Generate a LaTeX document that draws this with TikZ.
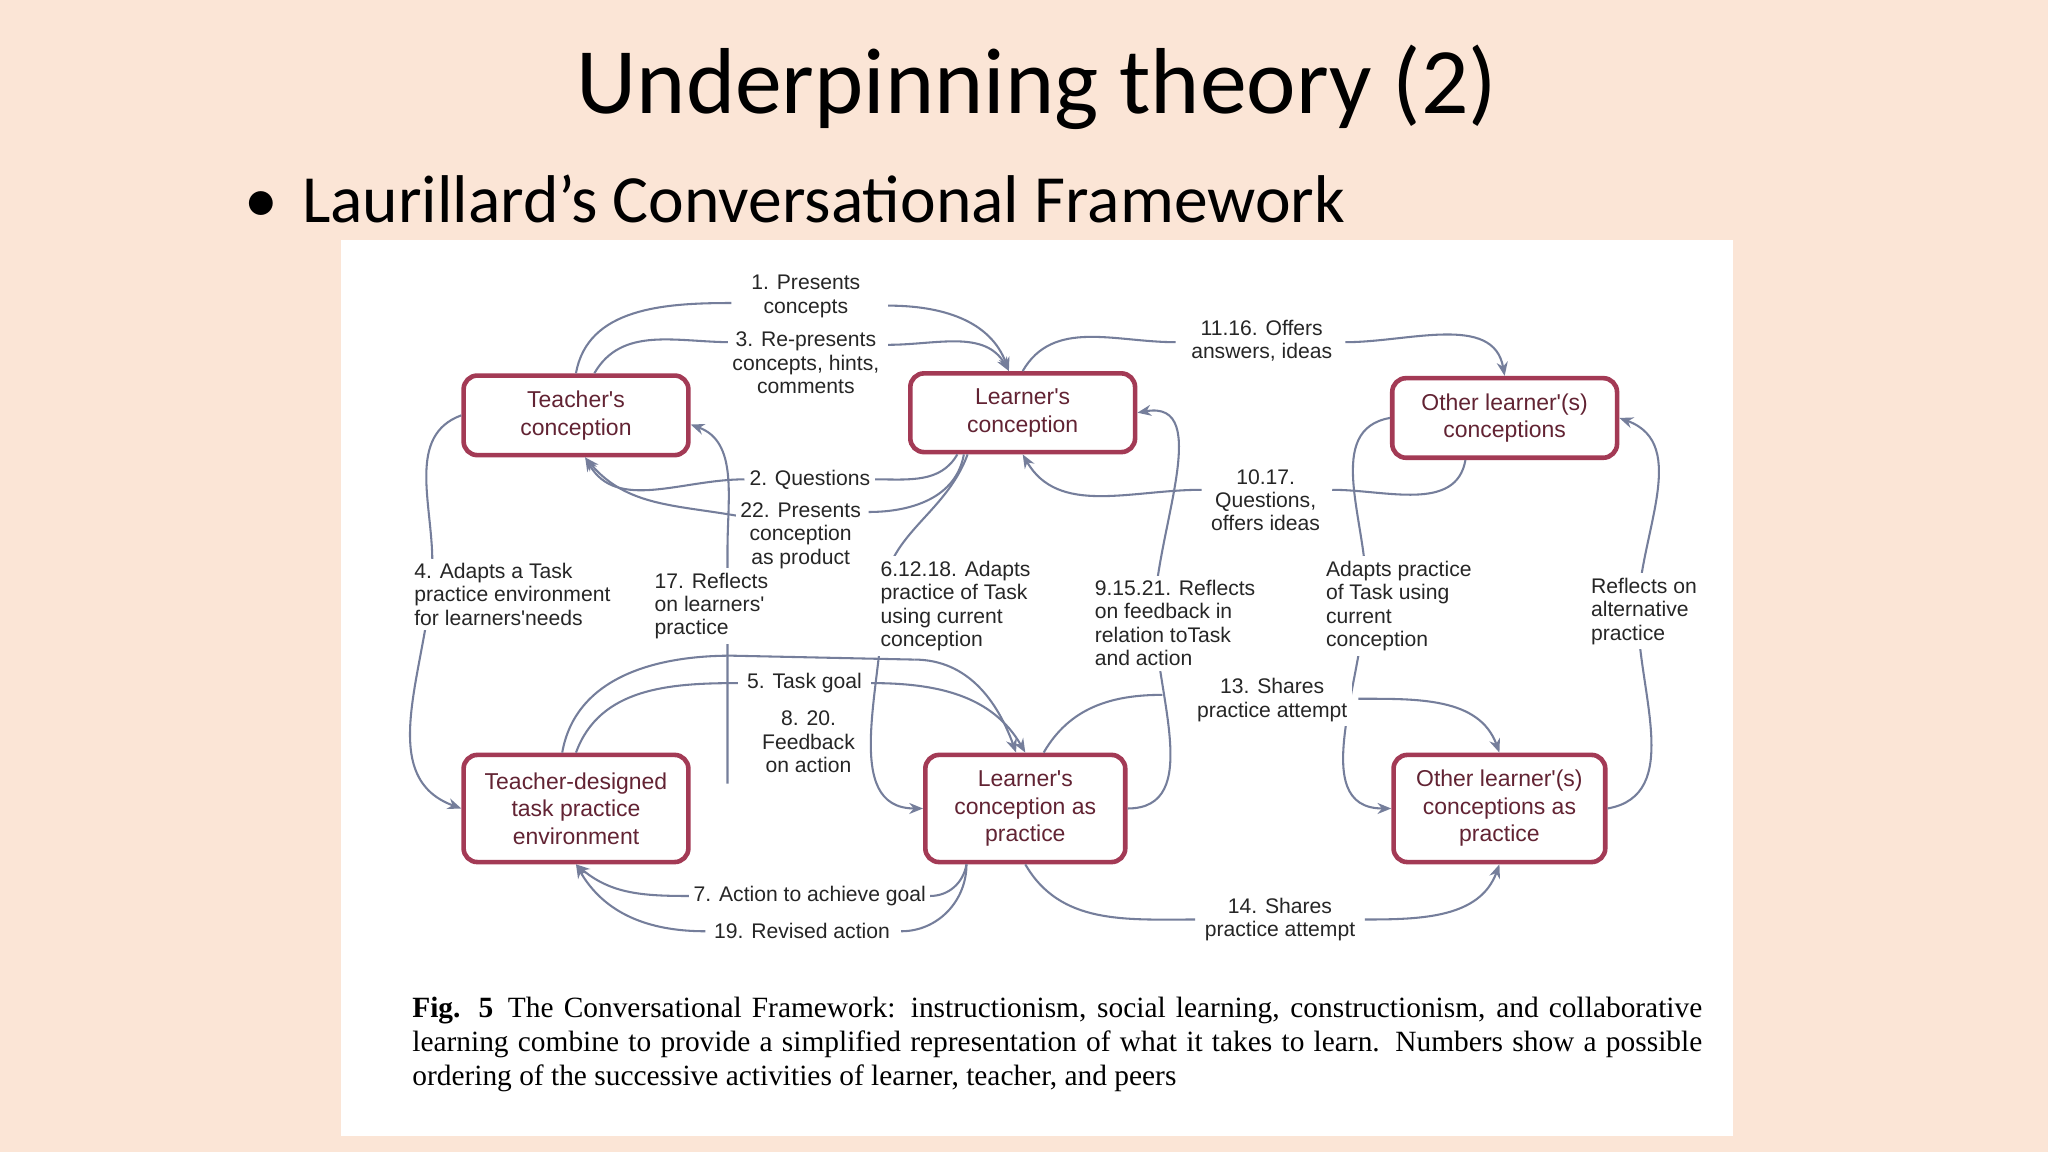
\documentclass[tikz,border=0pt]{standalone}
\usepackage{fontspec}
\setmainfont{Liberation Serif}
\newfontfamily\titlefont{Carlito}
\newfontfamily\dfont{Liberation Sans}
\usetikzlibrary{arrows.meta}
\definecolor{bg}{HTML}{FBE5D6}
\definecolor{boxc}{HTML}{A33A55}
\definecolor{arr}{HTML}{3A4670}
\tikzset{
 cbox/.style={draw=boxc,line width=1pt,rounded corners=3pt,fill=white,minimum width=1.72cm,minimum height=0.6cm,font=\dfont\fontsize{5}{6}\selectfont,align=center,text=boxc!60!black},
 lbl/.style={font=\dfont\fontsize{4.6}{5.1}\selectfont,align=center,inner sep=1pt,text=black!85,fill=white},
 lbll/.style={lbl,align=left,anchor=west},
 con/.style={draw=arr!70,line width=0.45pt},
 ar/.style={con,-{Stealth[length=3pt,width=2.4pt]}},
}
\begin{document}
\begin{tikzpicture}[x=0.01cm,y=-0.01cm]
\fill[bg] (0,0) rectangle (1568,882);
\useasboundingbox (0,0) rectangle (1568,882);
\fill[white] (261,184) rectangle (1327,870);
\node[font=\titlefont\fontsize{20.4}{24}\selectfont] (title) at (794,67) {Underpinning theory (2)};
\node[font=\titlefont\fontsize{14.7}{18}\selectfont,anchor=west] (bullet) at (175,152) {\textbullet\hspace{0.35em}Laurillard’s Conversational Framework};
% boxes
\node[cbox] (tc) at (441,318) {Teacher's\\conception};
\node[cbox] (lc) at (783,316) {Learner's\\conception};
\node[cbox] (oc) at (1152,320) {Other learner'(s)\\conceptions};
\node[cbox,minimum height=0.82cm] (td) at (441,619) {Teacher-designed\\task practice\\environment};
\node[cbox,minimum width=1.53cm,minimum height=0.82cm] (lp) at (785,619) {Learner's\\conception as\\practice};
\node[cbox,minimum width=1.62cm,minimum height=0.82cm] (op) at (1148,619) {Other learner'(s)\\conceptions as\\practice};
% connectors
\draw[con] (tc.north) to[out=80,in=180] (560,232);
\draw[ar] (680,234) to[out=0,in=110] ([xshift=-3pt]lc.north);
\draw[con] ([xshift=4pt]tc.north) to[out=60,in=180] (560,262);
\draw[ar] (680,264) to[out=0,in=120] ([xshift=-3pt]lc.north);
\draw[con] ([xshift=-0.5cm]lc.south) to[out=-120,in=0] (670,367);
\draw[ar] (570,367) to[out=180,in=-60] ([xshift=2pt]tc.south);
\draw[con] ([xshift=-0.45cm]lc.south) to[out=-100,in=0] (665,392);
\draw[ar] (565,395) to[out=170,in=-50] ([xshift=2pt]tc.south);
\draw[con] (lc.north) to[out=60,in=180] (900,262);
\draw[ar] (1030,262) to[out=0,in=100] (oc.north);
\draw[con] ([xshift=-0.3cm]oc.south) to[out=-100,in=0] (1020,375);
\draw[ar] (920,375) to[out=180,in=-60] (lc.south);
\draw[ar] (tc.west) to[out=200,in=90] (331,430) to[out=-90,in=160] (td.west);
\draw[ar] (557,600) to[out=90,in=-90] (557,420) to[out=90,in=-20] ([yshift=-2pt]tc.east);
\draw[ar] ([xshift=-12pt]lc.south) to[out=-110,in=90] (676,460) to[out=-90,in=180] (lp.west);
\draw[ar] (lp.east) to[out=0,in=-90] (884,470) to[out=90,in=10] (lc.east);
\draw[ar] (oc.west) to[out=190,in=90] (1046,450) to[out=-90,in=180] (op.west);
\draw[ar] (op.east) to[out=10,in=-90] (1254,470) to[out=90,in=-20] (oc.east);
\draw[con] (td.north) to[out=70,in=180] (565,523);
\draw[ar] (667,523) to[out=0,in=120] (lp.north);
\draw[con] ([xshift=-3pt]td.north) to[out=80,in=180] (560,502) to (700,505);
\draw[ar] (700,505) to[out=0,in=110] ([xshift=-2pt]lp.north);
\draw[con] ([xshift=4pt]lp.north) to[out=60,in=180] (890,532);
\draw[ar] (1040,535) to[out=0,in=110] (op.north);
\draw[con] ([xshift=-0.45cm]lp.south) to[out=-100,in=0] (712,686);
\draw[ar] (528,686) to[out=180,in=-40] (td.south);
\draw[con] ([xshift=-0.45cm]lp.south) to[out=-90,in=0] (690,713);
\draw[ar] (540,713) to[out=180,in=-60] (td.south);
\draw[con] (lp.south) to[out=-60,in=180] (915,704);
\draw[ar] (1045,704) to[out=0,in=-110] (op.south);
% labels
\node[lbl] (l1) at (617,227) {1. Presents\\concepts};
\node[lbl] (l3) at (617,278) {3. Re-presents\\concepts, hints,\\comments};
\node[lbl] (l2) at (620,367) {2. Questions};
\node[lbl] (l22) at (613,410) {22. Presents\\conception\\as product};
\node[lbl] (l11) at (966,261) {11.16. Offers\\answers, ideas};
\node[lbl] (l10) at (969,383) {10.17.\\Questions,\\offers ideas};
\node[lbll] (l4) at (313,455) {4. Adapts a Task\\practice environment\\for learners'needs};
\node[lbll] (l17) at (497,464) {17. Reflects\\on learners'\\practice};
\node[lbll] (l6) at (670,464) {6.12.18. Adapts\\practice of Task\\using current\\conception};
\node[lbll] (l9) at (834,477) {9.15.21. Reflects\\on feedback in\\relation toTask\\and action};
\node[lbll] (la) at (1011,464) {Adapts practice\\of Task using\\current\\conception};
\node[lbll] (lr) at (1214,468) {Reflects on\\alternative\\practice};
\node[lbl] (l5) at (616,523) {5. Task goal};
\node[lbl] (l8) at (619,568) {8. 20.\\Feedback\\on action};
\node[lbl] (l13) at (974,536) {13. Shares\\practice attempt};
\node[lbl] (l7) at (620,686) {7. Action to achieve goal};
\node[lbl] (l19) at (614,713) {19. Revised action};
\node[lbl] (l14) at (980,704) {14. Shares\\practice attempt};
% caption
\node[anchor=north west,text width=9.87cm,align=justify,inner sep=0pt,font=\fontsize{6.4}{7.4}\selectfont] (cap) at (315,763) {\textbf{Fig. 5}\enspace The Conversational Framework: instructionism, social learning, constructionism, and collaborative learning combine to provide a simplified representation of what it takes to learn. Numbers show a possible ordering of the successive activities of learner, teacher, and peers};
\end{tikzpicture}
\end{document}
